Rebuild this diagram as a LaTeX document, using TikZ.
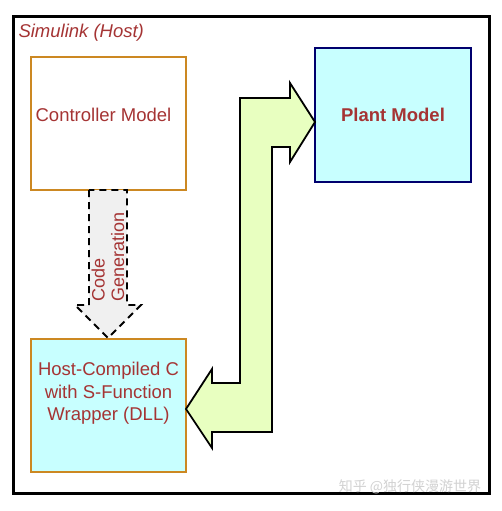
\documentclass[tikz,border=0pt]{standalone}
\usepackage{fontspec}
\setmainfont{Liberation Sans}
\newfontfamily\cjk{Noto Sans CJK SC}
\definecolor{txtred}{RGB}{165,52,52}
\definecolor{boxorange}{RGB}{204,136,34}
\definecolor{plantblue}{RGB}{0,0,110}
\definecolor{cyanfill}{RGB}{200,255,255}
\definecolor{greenfill}{RGB}{232,255,192}
\definecolor{genfill}{RGB}{240,240,240}
\begin{document}
\begin{tikzpicture}[x=1pt,y=-1pt,
  lbl/.style={font=\fontsize{18.5}{22.5}\selectfont, text=txtred, align=center},
  ctrlbox/.style={draw=boxorange, line width=2.5pt, inner sep=0pt, minimum width=155pt, minimum height=133pt},
  plantbox/.style={draw=plantblue, fill=cyanfill, line width=2.5pt, inner sep=0pt, minimum width=156pt, minimum height=134pt},
  hostbox/.style={draw=boxorange, fill=cyanfill, line width=2.5pt, inner sep=0pt, minimum width=155pt, minimum height=133pt},
  genarrow/.style={draw=black, fill=genfill, line width=1.8pt, dash pattern=on 7pt off 5pt},
  flowarrow/.style={draw=black, fill=greenfill, line width=1.8pt, line join=miter}
]
\useasboundingbox (0,0) rectangle (502,511);
\fill[white] (0,0) rectangle (502,511);
\draw[line width=3pt] (13,17) rectangle (489,493);
\node[lbl, font=\fontsize{18.5}{22.5}\selectfont\itshape, anchor=west] (title) at (15,33) {Simulink (Host)};

\node[ctrlbox] (ctrl) at (108.5,123.5) {};
\node[lbl] (ctrltxt) at (ctrl.center) [xshift=-5pt, yshift=9pt] {Controller Model};
\node[plantbox] (plant) at (393,115) {};
\node[lbl, font=\fontsize{18.5}{22.5}\selectfont\bfseries] (planttxt) at (plant.center) {Plant Model};
\node[hostbox] (host) at (108.5,405.5) {};
\node[lbl] (hosttxt) at (host.center) [yshift=12pt] {Host-Compiled C\\with S-Function\\Wrapper (DLL)};

% code generation arrow
\draw[genarrow] (89,190) -- (89,305) -- (75,305) -- (108,338) -- (141,305) -- (127,305) -- (127,190) -- cycle;
\node[lbl, rotate=90, align=left, font=\fontsize{18}{19.5}\selectfont] (gentxt) at (108,257) {Code\\Generation};

% bidirectional bent arrow
\draw[flowarrow] (290,83) -- (315,122) -- (290,162) -- (290,147) -- (272,147) -- (272,432) -- (212,432) -- (212,448) -- (186,409) -- (212,369) -- (212,383) -- (240,383) -- (240,98) -- (290,98) -- cycle;

\node[font=\cjk\fontsize{14}{16}\selectfont, text=gray!35] (wm) at (410,487) {知乎 @独行侠漫游世界};
\end{tikzpicture}
\end{document}
